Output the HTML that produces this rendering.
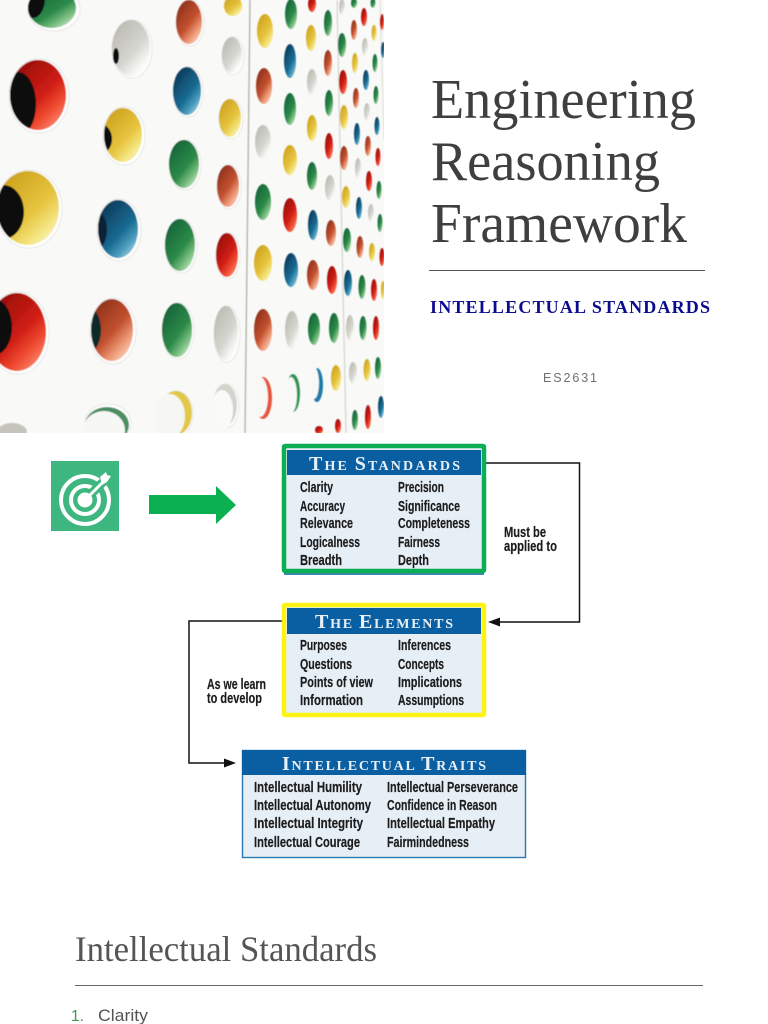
<!DOCTYPE html>
<html><head><meta charset="utf-8"><style>
html,body{margin:0;padding:0;background:#fff;width:768px;height:1024px;overflow:hidden}
svg{display:block}
.s{font-family:"Liberation Serif",serif}
.b{font-family:"Liberation Sans Narrow","Liberation Sans",sans-serif;font-weight:700;font-size:14.5px;fill:#1c1c1c;stroke:#1c1c1c;stroke-width:.2px}
.h{font-family:"Liberation Serif",serif;font-weight:700;fill:#e8f0f6;font-size:14px}
.h tspan{font-size:20px}
.r{fill:url(#r)}.y{fill:url(#y)}.g{fill:url(#g)}.n{fill:url(#n)}.o{fill:url(#o)}.w{fill:url(#w)}
</style></head><body>
<svg width="768" height="1024" viewBox="0 0 768 1024" xmlns="http://www.w3.org/2000/svg">
<defs>
<linearGradient id="r" x1=".2" y1=".1" x2=".85" y2=".95"><stop offset="0" stop-color="#9c0f0c"/><stop offset=".5" stop-color="#cf1d14"/><stop offset=".75" stop-color="#ee4a30"/><stop offset="1" stop-color="#fb8a70"/></linearGradient>
<linearGradient id="y" x1=".2" y1=".1" x2=".85" y2=".95"><stop offset="0" stop-color="#cfa51f"/><stop offset=".55" stop-color="#e6c43f"/><stop offset=".8" stop-color="#f3e27a"/><stop offset="1" stop-color="#fbf4bd"/></linearGradient>
<linearGradient id="g" x1=".2" y1=".1" x2=".85" y2=".95"><stop offset="0" stop-color="#17673a"/><stop offset=".55" stop-color="#2c8a48"/><stop offset=".8" stop-color="#79bd80"/><stop offset="1" stop-color="#c4e6bf"/></linearGradient>
<linearGradient id="n" x1=".2" y1=".1" x2=".85" y2=".95"><stop offset="0" stop-color="#0e3d5c"/><stop offset=".55" stop-color="#176a92"/><stop offset=".8" stop-color="#4b9cbc"/><stop offset="1" stop-color="#9fd0e2"/></linearGradient>
<linearGradient id="o" x1=".2" y1=".1" x2=".85" y2=".95"><stop offset="0" stop-color="#93331d"/><stop offset=".5" stop-color="#c2512f"/><stop offset=".78" stop-color="#ee9a78"/><stop offset="1" stop-color="#fbd3bd"/></linearGradient>
<linearGradient id="w" x1=".2" y1=".1" x2=".85" y2=".95"><stop offset="0" stop-color="#bdbdb5"/><stop offset=".55" stop-color="#d6d6d0"/><stop offset=".85" stop-color="#f7f7f5"/><stop offset="1" stop-color="#ffffff"/></linearGradient>
<filter id="bl" x="-10%" y="-10%" width="120%" height="120%"><feGaussianBlur stdDeviation=".6"/></filter>
<clipPath id="pic"><rect width="384" height="433"/></clipPath>
<clipPath id="c1"><ellipse cx="38" cy="95" rx="28" ry="35"/></clipPath>
<clipPath id="c2"><ellipse cx="28" cy="208" rx="31" ry="37"/></clipPath>
<clipPath id="c3"><ellipse cx="17" cy="332" rx="29" ry="39"/></clipPath>
<clipPath id="c4"><ellipse cx="123" cy="135" rx="19" ry="27"/></clipPath>
<clipPath id="c5"><ellipse cx="118" cy="229" rx="20" ry="29"/></clipPath>
<clipPath id="c6"><ellipse cx="112" cy="330" rx="21" ry="31"/></clipPath>
<clipPath id="c7"><ellipse cx="52" cy="8" rx="24" ry="20"/></clipPath>
</defs>
<rect width="768" height="1024" fill="#fff"/>

<g clip-path="url(#pic)">
<rect width="384" height="433" fill="#f9f9f8"/>
<g filter="url(#bl)">
<path d="M250 0L245 433" stroke="#b5b5ab" stroke-width="1.4" fill="none"/>
<path d="M337 0L346 433" stroke="#d0d0c8" stroke-width="1.1" fill="none"/>
<path d="M380 0L384 140" stroke="#dcdcd6" fill="none"/>
<g fill="#fff" stroke="#e6e6e3" stroke-width="1">
<ellipse cx="54" cy="9" rx="26" ry="22"/><ellipse cx="39" cy="96" rx="30" ry="37"/><ellipse cx="29" cy="209" rx="33" ry="39"/><ellipse cx="18" cy="333" rx="31" ry="41"/><ellipse cx="132" cy="49" rx="20" ry="29"/><ellipse cx="124" cy="136" rx="21" ry="29"/><ellipse cx="119" cy="230" rx="22" ry="31"/><ellipse cx="113" cy="331" rx="23" ry="33"/>
<ellipse cx="108" cy="423" rx="23" ry="19"/><ellipse cx="190" cy="23" rx="14" ry="23"/><ellipse cx="188" cy="92" rx="15" ry="25"/><ellipse cx="185" cy="165" rx="16" ry="25"/><ellipse cx="181" cy="246" rx="16" ry="27"/><ellipse cx="178" cy="331" rx="16" ry="28"/><ellipse cx="176" cy="414" rx="17" ry="23"/>
<ellipse cx="233" cy="56" rx="11" ry="19"/><ellipse cx="231" cy="119" rx="12" ry="20"/><ellipse cx="229" cy="187" rx="12" ry="22"/><ellipse cx="228" cy="256" rx="12" ry="23"/><ellipse cx="227" cy="334" rx="13" ry="28"/><ellipse cx="226" cy="406" rx="13" ry="22"/>
</g>
<ellipse class="g" cx="52" cy="8" rx="24" ry="20"/>
<ellipse class="r" cx="38" cy="95" rx="28" ry="35"/>
<ellipse class="y" cx="28" cy="208" rx="31" ry="37"/>
<ellipse class="r" cx="17" cy="332" rx="29" ry="39"/>
<ellipse class="w" cx="131" cy="48" rx="19" ry="28"/>
<ellipse class="y" cx="123" cy="135" rx="19" ry="27"/>
<ellipse class="n" cx="118" cy="229" rx="20" ry="29"/>
<ellipse class="o" cx="112" cy="330" rx="21" ry="31"/>
<g clip-path="url(#c1)"><ellipse cx="18" cy="104" rx="18" ry="32" fill="#0c0a0a"/></g>
<g clip-path="url(#c2)"><ellipse cx="3" cy="212" rx="21" ry="27" fill="#0a0a0a"/></g>
<g clip-path="url(#c3)"><ellipse cx="-6" cy="327" rx="18" ry="28" fill="#0a0a0a"/></g>
<g clip-path="url(#c4)"><ellipse cx="100" cy="139" rx="12" ry="15" fill="#111"/></g>
<g clip-path="url(#c5)"><ellipse cx="92" cy="230" rx="15" ry="22" fill="#0b2436"/></g>
<g clip-path="url(#c6)"><ellipse cx="86" cy="330" rx="15" ry="24" fill="#0f2b2c"/></g>
<g clip-path="url(#c7)"><ellipse cx="33" cy="-2" rx="12" ry="20" fill="#0a0a0a"/></g>
<ellipse cx="116" cy="56" rx="3" ry="8" fill="#111"/>
<ellipse cx="12" cy="432" rx="15" ry="9" fill="#c5c5bd"/>
<ellipse cx="107" cy="425" rx="22" ry="18" fill="#4c8f60"/><ellipse cx="104" cy="430" rx="21" ry="19" fill="#f7f7f5"/>
<ellipse cx="176" cy="413" rx="16" ry="22" fill="#e2c84a"/><ellipse cx="170" cy="416" rx="15" ry="22" fill="#f6f6f2"/>
<ellipse cx="225" cy="405" rx="12" ry="21" fill="#d4d4cc"/><ellipse cx="222" cy="410" rx="11" ry="20" fill="#fafaf8"/>
<ellipse class="o" cx="189" cy="22" rx="13" ry="22"/>
<ellipse class="n" cx="187" cy="91" rx="14" ry="24"/>
<ellipse class="g" cx="184" cy="164" rx="15" ry="24"/>
<ellipse class="g" cx="180" cy="245" rx="15" ry="26"/>
<ellipse class="g" cx="177" cy="330" rx="15" ry="27"/>
<ellipse class="y" cx="233" cy="6" rx="9" ry="10"/>
<ellipse class="w" cx="232" cy="55" rx="10" ry="18"/>
<ellipse class="y" cx="230" cy="118" rx="11" ry="19"/>
<ellipse class="o" cx="228" cy="186" rx="11" ry="21"/>
<ellipse class="r" cx="227" cy="255" rx="11" ry="22"/>
<ellipse class="w" cx="226" cy="333" rx="12" ry="27"/>
<ellipse class="y" cx="265" cy="31" rx="8" ry="17"/>
<ellipse class="o" cx="264" cy="86" rx="8" ry="18"/>
<ellipse class="w" cx="263" cy="142" rx="8" ry="17"/>
<ellipse class="g" cx="263" cy="202" rx="8" ry="18"/>
<ellipse class="y" cx="263" cy="263" rx="9" ry="18"/>
<ellipse class="o" cx="263" cy="330" rx="9" ry="21"/>
<ellipse cx="263" cy="398" rx="9" ry="21" fill="#e6553c"/><ellipse cx="260" cy="397" rx="8" ry="20" fill="#f8f8f6"/>
<ellipse class="g" cx="291" cy="14" rx="6" ry="15"/>
<ellipse class="n" cx="290" cy="61" rx="6" ry="17"/>
<ellipse class="g" cx="290" cy="109" rx="6" ry="16"/>
<ellipse class="y" cx="290" cy="160" rx="7" ry="15"/>
<ellipse class="r" cx="290" cy="215" rx="7" ry="17"/>
<ellipse class="n" cx="291" cy="270" rx="7" ry="17"/>
<ellipse class="w" cx="292" cy="330" rx="7" ry="19"/>
<ellipse cx="293" cy="393" rx="7" ry="19" fill="#2f9453"/><ellipse cx="291" cy="395" rx="6" ry="18" fill="#f8f8f6"/>
<ellipse class="r" cx="312" cy="4" rx="4" ry="8"/>
<ellipse class="y" cx="311" cy="38" rx="5" ry="13"/>
<ellipse class="w" cx="312" cy="82" rx="5" ry="13"/>
<ellipse class="y" cx="312" cy="128" rx="5" ry="13"/>
<ellipse class="g" cx="312" cy="176" rx="5" ry="14"/>
<ellipse class="n" cx="313" cy="225" rx="5" ry="15"/>
<ellipse class="o" cx="313" cy="275" rx="6" ry="15"/>
<ellipse class="g" cx="314" cy="329" rx="6" ry="16"/>
<ellipse cx="317" cy="385" rx="6" ry="17" fill="#1f7da6"/><ellipse cx="314" cy="383" rx="5" ry="16" fill="#f8f8f6"/>
<ellipse class="r" cx="319" cy="430" rx="4" ry="4"/>
<ellipse class="g" cx="328" cy="23" rx="4" ry="13"/>
<ellipse class="o" cx="328" cy="63" rx="4" ry="13"/>
<ellipse class="g" cx="329" cy="103" rx="4" ry="13"/>
<ellipse class="r" cx="329" cy="146" rx="4" ry="13"/>
<ellipse class="w" cx="330" cy="188" rx="5" ry="13"/>
<ellipse class="o" cx="331" cy="233" rx="5" ry="13"/>
<ellipse class="r" cx="332" cy="280" rx="5" ry="14"/>
<ellipse class="g" cx="334" cy="328" rx="5" ry="15"/>
<ellipse class="y" cx="336" cy="378" rx="5" ry="13"/>
<ellipse class="r" cx="338" cy="426" rx="3" ry="7"/>
<ellipse class="w" cx="342" cy="7" rx="3" ry="8"/>
<ellipse class="g" cx="342" cy="45" rx="4" ry="12"/>
<ellipse class="r" cx="343" cy="82" rx="4" ry="12"/>
<ellipse class="y" cx="344" cy="117" rx="4" ry="12"/>
<ellipse class="o" cx="344" cy="158" rx="4" ry="12"/>
<ellipse class="y" cx="346" cy="197" rx="4" ry="11"/>
<ellipse class="g" cx="347" cy="240" rx="4" ry="12"/>
<ellipse class="n" cx="348" cy="283" rx="4" ry="13"/>
<ellipse class="w" cx="350" cy="328" rx="4" ry="13"/>
<ellipse class="w" cx="353" cy="373" rx="4" ry="11"/>
<ellipse class="g" cx="355" cy="420" rx="3" ry="10"/>
<ellipse class="g" cx="354" cy="3" rx="3" ry="5"/>
<ellipse class="o" cx="354" cy="30" rx="3" ry="10"/>
<ellipse class="y" cx="355" cy="63" rx="3" ry="10"/>
<ellipse class="o" cx="356" cy="98" rx="3" ry="10"/>
<ellipse class="n" cx="357" cy="134" rx="3" ry="11"/>
<ellipse class="w" cx="358" cy="168" rx="3" ry="10"/>
<ellipse class="n" cx="359" cy="208" rx="3" ry="11"/>
<ellipse class="o" cx="360" cy="247" rx="3.5" ry="11"/>
<ellipse class="g" cx="362" cy="287" rx="3.5" ry="12"/>
<ellipse class="g" cx="363" cy="328" rx="3.5" ry="12"/>
<ellipse class="y" cx="367" cy="370" rx="3.5" ry="11"/>
<ellipse class="r" cx="368" cy="417" rx="3" ry="12"/>
<ellipse class="r" cx="364" cy="17" rx="3" ry="9"/>
<ellipse class="w" cx="365" cy="47" rx="3" ry="9"/>
<ellipse class="n" cx="366" cy="80" rx="3" ry="10"/>
<ellipse class="w" cx="367" cy="112" rx="3" ry="9"/>
<ellipse class="o" cx="368" cy="146" rx="3" ry="10"/>
<ellipse class="r" cx="369" cy="181" rx="3" ry="10"/>
<ellipse class="w" cx="371" cy="213" rx="3" ry="9"/>
<ellipse class="y" cx="372" cy="252" rx="3" ry="9"/>
<ellipse class="r" cx="374" cy="290" rx="3" ry="11"/>
<ellipse class="r" cx="376" cy="328" rx="3" ry="12"/>
<ellipse class="g" cx="378" cy="368" rx="3" ry="11"/>
<ellipse class="n" cx="381" cy="407" rx="3" ry="11"/>
<ellipse class="g" cx="373" cy="3" rx="2.5" ry="5"/>
<ellipse class="y" cx="374" cy="33" rx="2.5" ry="8"/>
<ellipse class="g" cx="375" cy="63" rx="2.5" ry="9"/>
<ellipse class="g" cx="376" cy="95" rx="2.5" ry="9"/>
<ellipse class="n" cx="377" cy="126" rx="2.5" ry="9"/>
<ellipse class="r" cx="378" cy="157" rx="2.5" ry="9"/>
<ellipse class="g" cx="379" cy="190" rx="2.5" ry="9"/>
<ellipse class="g" cx="380" cy="223" rx="2.5" ry="9"/>
<ellipse class="r" cx="382" cy="257" rx="2.5" ry="9"/>
<ellipse class="y" cx="383" cy="290" rx="2" ry="9"/>
<ellipse class="r" cx="382" cy="22" rx="2" ry="8"/>
<ellipse class="n" cx="383" cy="50" rx="2" ry="8"/>
</g>
</g>

<!-- Title -->
<g class="s" fill="#3f3f3f" font-size="56">
<text x="431" y="118" textLength="265" lengthAdjust="spacingAndGlyphs">Engineering</text>
<text x="431" y="180" textLength="229" lengthAdjust="spacingAndGlyphs">Reasoning</text>
<text x="431" y="242" textLength="256" lengthAdjust="spacingAndGlyphs">Framework</text>
</g>
<rect x="429" y="270" width="276" height="1" fill="#555"/>
<text class="s" x="430" y="313" font-size="18" font-weight="700" fill="#0b0b8e" textLength="280">INTELLECTUAL STANDARDS</text>
<text x="543" y="382" font-family="'Liberation Sans',sans-serif" font-size="12.5" fill="#707070" textLength="54">ES2631</text>

<!-- Icon -->
<rect x="51" y="461" width="68" height="70" fill="#3db680"/>
<g fill="none" stroke="#fff" stroke-width="4">
<circle cx="85" cy="500" r="24"/>
<circle cx="85" cy="500" r="14"/>
</g>
<path d="M85 500L111 474" stroke="#3db680" stroke-width="9"/>
<circle cx="85" cy="500" r="7.5" fill="#fff"/>
<path d="M85 500L104 481" stroke="#fff" stroke-width="3"/>
<path d="M100 477L106 472L107 475L111 476L107 482L102 485Z" fill="#fff"/>
<!-- Green arrow -->
<path d="M149 495H216V486L236 505L216 524V514H149Z" fill="#0bb050"/>

<!-- Connectors -->
<g fill="none" stroke="#111" stroke-width="1.5">
<path d="M486 463H579.5V622H495"/>
<path d="M282 621H189V763H228"/>
</g>
<path d="M488 622L500 617.5V626.5Z" fill="#111"/>
<path d="M236 763L224 758.5V767.5Z" fill="#111"/>

<!-- Standards -->
<rect x="284" y="446" width="200" height="129" fill="#3d85b8"/>
<rect x="284" y="446" width="200" height="125" fill="#e6eff6" stroke="#0cae55" stroke-width="4.5" rx="1"/>
<rect x="287" y="450" width="194" height="25" fill="#0a5fa3"/>
<text class="h" x="309" y="470" textLength="151"><tspan>T</tspan>HE <tspan>S</tspan>TANDARDS</text>
<g class="b">
<text x="300" y="492" textLength="33" lengthAdjust="spacingAndGlyphs">Clarity</text>
<text x="300" y="511" textLength="45" lengthAdjust="spacingAndGlyphs">Accuracy</text>
<text x="300" y="528" textLength="53" lengthAdjust="spacingAndGlyphs">Relevance</text>
<text x="300" y="547" textLength="60" lengthAdjust="spacingAndGlyphs">Logicalness</text>
<text x="300" y="565" textLength="42" lengthAdjust="spacingAndGlyphs">Breadth</text>
<text x="398" y="492" textLength="46" lengthAdjust="spacingAndGlyphs">Precision</text>
<text x="398" y="511" textLength="62" lengthAdjust="spacingAndGlyphs">Significance</text>
<text x="398" y="528" textLength="72" lengthAdjust="spacingAndGlyphs">Completeness</text>
<text x="398" y="547" textLength="42" lengthAdjust="spacingAndGlyphs">Fairness</text>
<text x="398" y="565" textLength="31" lengthAdjust="spacingAndGlyphs">Depth</text>
<text x="504" y="537" textLength="42" lengthAdjust="spacingAndGlyphs">Must be</text>
<text x="504" y="551" textLength="53" lengthAdjust="spacingAndGlyphs">applied to</text>
</g>

<!-- Elements -->
<rect x="284" y="605" width="200" height="110" fill="#e6eff6" stroke="#fcf214" stroke-width="4.5" rx="1"/>
<rect x="287" y="608" width="194" height="26" fill="#0a5fa3"/>
<text class="h" x="315" y="628" textLength="138"><tspan>T</tspan>HE <tspan>E</tspan>LEMENTS</text>
<g class="b">
<text x="300" y="650" textLength="47" lengthAdjust="spacingAndGlyphs">Purposes</text>
<text x="300" y="669" textLength="52" lengthAdjust="spacingAndGlyphs">Questions</text>
<text x="300" y="687" textLength="73" lengthAdjust="spacingAndGlyphs">Points of view</text>
<text x="300" y="705" textLength="63" lengthAdjust="spacingAndGlyphs">Information</text>
<text x="398" y="650" textLength="53" lengthAdjust="spacingAndGlyphs">Inferences</text>
<text x="398" y="669" textLength="46" lengthAdjust="spacingAndGlyphs">Concepts</text>
<text x="398" y="687" textLength="64" lengthAdjust="spacingAndGlyphs">Implications</text>
<text x="398" y="705" textLength="66" lengthAdjust="spacingAndGlyphs">Assumptions</text>
<text x="207" y="689" textLength="59" lengthAdjust="spacingAndGlyphs">As we learn</text>
<text x="207" y="703" textLength="55" lengthAdjust="spacingAndGlyphs">to develop</text>
</g>

<!-- Traits -->
<rect x="242.5" y="750.5" width="283" height="107" fill="#e6eff6" stroke="#2a78b0" stroke-width="1.4"/>
<rect x="242" y="750" width="284" height="25" fill="#0a5fa3"/>
<text class="h" x="282" y="770" textLength="204"><tspan>I</tspan>NTELLECTUAL <tspan>T</tspan>RAITS</text>
<g class="b">
<text x="254" y="792" textLength="108" lengthAdjust="spacingAndGlyphs">Intellectual Humility</text>
<text x="254" y="810" textLength="117" lengthAdjust="spacingAndGlyphs">Intellectual Autonomy</text>
<text x="254" y="828" textLength="109" lengthAdjust="spacingAndGlyphs">Intellectual Integrity</text>
<text x="254" y="847" textLength="106" lengthAdjust="spacingAndGlyphs">Intellectual Courage</text>
<text x="387" y="792" textLength="131" lengthAdjust="spacingAndGlyphs">Intellectual Perseverance</text>
<text x="387" y="810" textLength="110" lengthAdjust="spacingAndGlyphs">Confidence in Reason</text>
<text x="387" y="828" textLength="108" lengthAdjust="spacingAndGlyphs">Intellectual Empathy</text>
<text x="387" y="847" textLength="82" lengthAdjust="spacingAndGlyphs">Fairmindedness</text>
</g>

<!-- Bottom -->
<text class="s" x="75" y="961" font-size="36" fill="#555" textLength="302" lengthAdjust="spacingAndGlyphs">Intellectual Standards</text>
<rect x="75" y="985" width="628" height="1" fill="#666"/>
<text x="71" y="1021" font-family="'Liberation Sans',sans-serif" font-size="15.5" fill="#3d9a4a">1.</text>
<text x="98" y="1021" font-family="'Liberation Sans',sans-serif" font-size="16.5" fill="#555" textLength="50" lengthAdjust="spacingAndGlyphs">Clarity</text>
</svg>
</body></html>
